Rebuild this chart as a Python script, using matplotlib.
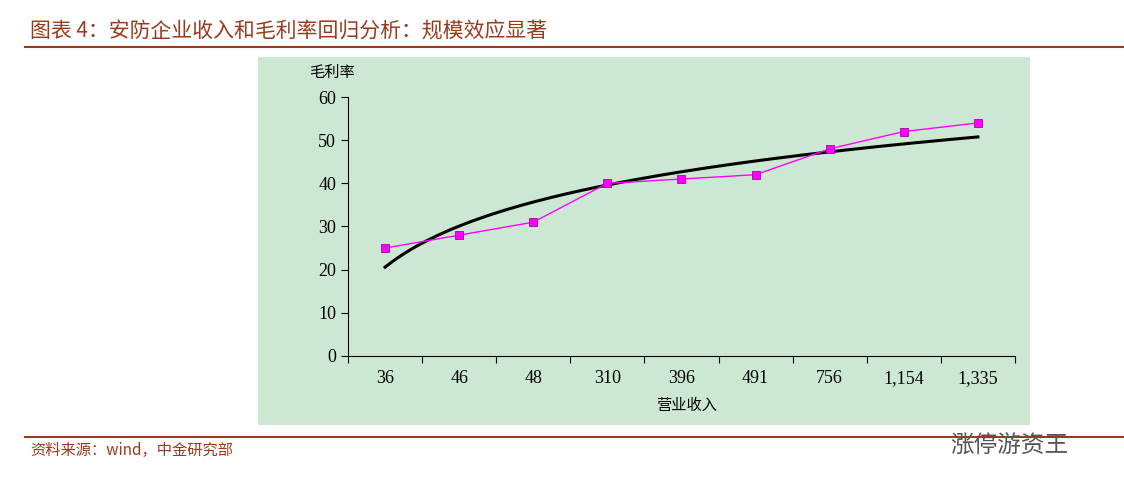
import numpy as np
import matplotlib
matplotlib.use("Agg")
import matplotlib.pyplot as plt
from matplotlib.patches import Rectangle

plt.rcParams['font.family'] = ['Noto Sans CJK SC', 'DejaVu Sans']

categories = ["36", "46", "48", "310", "396", "491", "756", "1,154", "1,335"]
margin = [25, 28, 31, 40, 41, 42, 48, 52, 54]

fig = plt.figure(figsize=(11.24, 4.91), dpi=100)
brown = '#9b3a1a'
fig.text(0.027, 0.935, "图表 4：安防企业收入和毛利率回归分析：规模效应显著", fontsize=15,
         color=brown, style='italic', va='center')
fig.add_artist(plt.Line2D([0.022, 1.0], [0.905, 0.905], color=brown, lw=1.5))
fig.add_artist(plt.Line2D([0.022, 1.0], [0.11, 0.11], color=brown, lw=1.5))
fig.text(0.027, 0.083, "资料来源：wind，中金研究部", fontsize=11, color=brown, style='italic', va='center')
fig.text(0.845, 0.09, "涨停游资王", fontsize=17, color='#555555', va='center')

fig.add_artist(Rectangle((0.2295, 0.1344), 0.6869, 0.7496, transform=fig.transFigure,
                         facecolor='#cde8d2', edgecolor='none', zorder=0))

ax = fig.add_axes([0.3096, 0.275, 0.5934, 0.5274])
ax.set_facecolor('none')
x = np.arange(len(categories)) + 0.5
ax.plot(x, margin, color='#ff00ff', lw=1, marker='s', ms=6, mec='#aa00aa', mew=0.6, zorder=3)

# logarithmic regression trend line fitted on the data
idx = np.arange(1, len(categories) + 1)
b, a = np.polyfit(np.log(idx), margin, 1)
xs = np.linspace(1, len(categories), 200)
ax.plot(xs - 0.5, a + b * np.log(xs), color='black', lw=2.2, zorder=2)

serif = 'Liberation Serif'
ax.set_xlim(0, len(categories))
ax.set_ylim(0, 60)
ax.set_yticks(range(0, 61, 10))
ax.set_yticklabels([str(v) for v in range(0, 61, 10)], fontsize=13, family=serif)
ax.set_xticks(np.arange(0, len(categories) + 1))
ax.set_xticklabels([])
ax.set_xticks(x, minor=True)
ax.set_xticklabels(categories, minor=True, fontsize=13, family=serif)
ax.tick_params(axis='x', which='minor', length=0, pad=10)
ax.tick_params(axis='x', which='major', length=5, direction='out')
ax.tick_params(axis='y', length=5, direction='out')
for s in ['top', 'right']:
    ax.spines[s].set_visible(False)
for s in ['left', 'bottom']:
    ax.spines[s].set_color('black')
fig.text(0.295, 0.853, "毛利率", fontsize=11, ha='center', va='center')
fig.text(0.611, 0.175, "营业收入", fontsize=11, ha='center', va='center')

fig.savefig("out.png", dpi=100)
